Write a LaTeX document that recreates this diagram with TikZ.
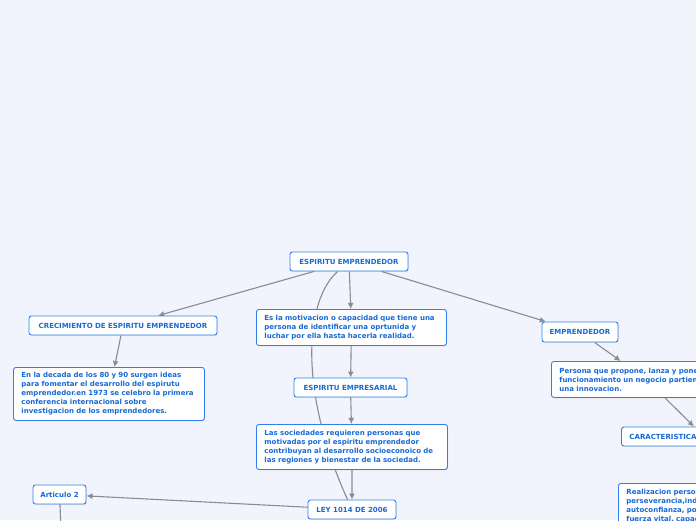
\documentclass[tikz,border=0pt]{standalone}
\usepackage{fontspec}
\newfontfamily\mapfont{DejaVu Sans}
\usetikzlibrary{arrows.meta,backgrounds,shadows}
\definecolor{paper}{HTML}{F1F4FD}
\definecolor{frame}{HTML}{2F80ED}
\definecolor{ink}{HTML}{1769D6}
\definecolor{wire}{HTML}{8C8C8C}

\begin{document}
\begin{tikzpicture}[x=1pt,y=-1pt,>={Latex[length=6pt,width=6pt]},
  topic/.style={draw=frame,line width=0.9pt,fill=white,rounded corners=2.5pt,text=ink,
    font=\mapfont\bfseries\fontsize{7}{9}\selectfont,inner sep=0pt,
    drop shadow={opacity=0.18,shadow xshift=0.6pt,shadow yshift=-0.8pt}},
  note/.style={topic,align=left,anchor=north west,inner xsep=8pt},
  link/.style={->,wire,line width=1.1pt}]
  \useasboundingbox (0,0) rectangle (696,520);
  \clip (0,0) rectangle (696,520);

  % main topic and branches
  \node[topic,minimum width=118pt,minimum height=19pt] (ee) at (349,261.5) {ESPIRITU EMPRENDEDOR};
  \node[topic,minimum width=188pt,minimum height=19pt] (crec) at (123,325.5) {CRECIMIENTO DE ESPIRITU EMPRENDEDOR};
  \node[topic,minimum width=76pt,minimum height=20pt] (emp) at (580,332) {EMPRENDEDOR};
  \node[topic,minimum width=113pt,minimum height=19pt] (empres) at (350.5,387.5) {ESPIRITU EMPRESARIAL};
  \node[topic,minimum width=88pt,minimum height=19pt] (ley) at (352,509.5) {LEY 1014 DE 2006};
  \node[topic,minimum width=53pt,minimum height=19pt] (art) at (59.5,494.5) {Articulo 2};
  \node[topic,anchor=west,align=left,text width=149pt,minimum width=165pt,minimum height=19pt] (car) at (621,436.5) {CARACTERISTICAS};

  % notes
  \node[note,text width=174pt,minimum height=36pt] (motiv) at (256,309)
    {Es la motivacion o capacidad que tiene una\\persona de identificar una oprtunida y\\luchar por ella hasta hacerla realidad.};
  \node[note,text width=175pt,minimum height=53pt] (decada) at (13,367)
    {En la decada de los 80 y 90 surgen ideas\\para fomentar el desarrollo del espirutu\\emprendedor.en 1973 se celebro la primera\\conferencia internacional sobre\\investigacion de los emprendedores.};
  \node[note,text width=175pt,minimum height=45pt] (socied) at (256,424)
    {Las sociedades requieren personas que\\motivadas por el espiritu emprendedor\\contribuyan al desarrollo socioeconoico de\\las regiones y bienestar de la sociedad.};
  \node[note,text width=174pt,minimum height=36pt] (persona) at (551,361)
    {Persona que propone, lanza y pone en\\funcionamiento un negocio partiendo de\\una innovacion.};
  \node[note,text width=134pt,inner ysep=6pt] (realiz) at (618,483)
    {Realizacion personal,\\perseverancia,independencia,\\autoconfianza, poder,\\fuerza vital, capacidad};
  \coordinate (artend) at (61.5,540);

  \begin{pgfonlayer}{background}
    \fill[paper] (0,0) rectangle (696,520);
    \draw[wire,line width=1.1pt] (ee) .. controls (305,300) and (298,390) .. (ley);
    \draw[link] (ee) -- (crec);
    \draw[link] (ee) -- (motiv);
    \draw[link] (ee) -- (emp);
    \draw[link] (crec) -- (decada);
    \draw[link] (motiv) -- (empres);
    \draw[link] (empres) -- (socied);
    \draw[link] (socied) -- (ley);
    \draw[link] (ley) -- (art);
    \draw[wire,line width=1.1pt] (art) -- (artend);
    \draw[link] (emp) -- (persona);
    \draw[link] (persona) -- (car);
  \end{pgfonlayer}
\end{tikzpicture}
\end{document}
